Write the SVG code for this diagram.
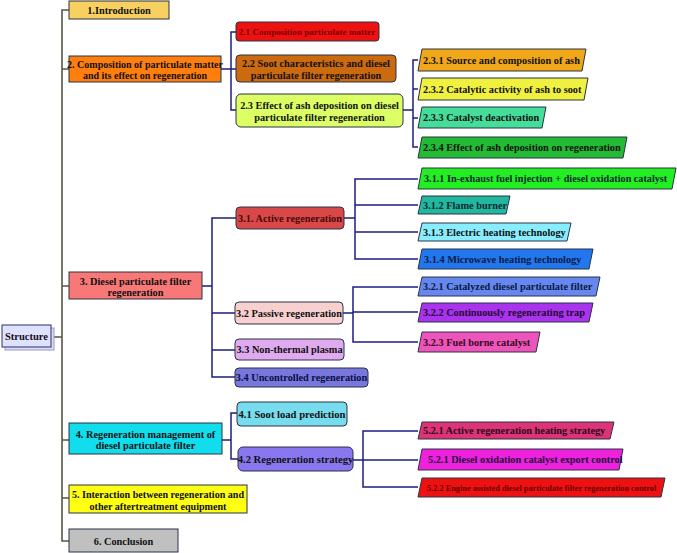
<svg xmlns="http://www.w3.org/2000/svg" width="677" height="553" viewBox="0 0 677 553">
<style>
text{font-family:"Liberation Serif","Times New Roman",serif;font-weight:bold;font-size:10.3px;fill:#111}
.c{text-anchor:middle}
.b{stroke:#2a3344;stroke-width:1}
.sp{fill:none;stroke:#555548;stroke-width:1.6}
.cn{fill:none;stroke:#1c1c80;stroke-width:1.5}
</style>
<rect width="677" height="553" fill="#fff"/>
<g id="connectors">
<path class="sp" d="M69,10 H62 V541 H69 M62,69 H69 M62,286 H69 M62,440 H69 M62,498 H69 M51,337 H62"/>
<path class="cn" d="M221,69 H231 M236,32 H231 V110 H236 M231,69 H236"/>
<path class="cn" d="M403,110 H413 M418,60 H413 V147 H418 M413,89 H418 M413,118 H418"/>
<path class="cn" d="M202,286 H212 M236,218 H212 V377 H236 M212,313 H235 M212,350 H235"/>
<path class="cn" d="M344,218 H355 M418,179 H355 V259 H418 M355,205 H418 M355,232 H418"/>
<path class="cn" d="M343,313 H353 M418,287 H353 V342 H418 M353,312 H418"/>
<path class="cn" d="M222,440 H231 M237,413 H231 V459 H238"/>
<path class="cn" d="M353,460 H363 M418,431 H363 V487 H418 M363,460 H418"/>
</g>
<g id="structure">
<rect x="5" y="328" width="49" height="22" fill="#dcdcf4" stroke="#9999cc"/>
<rect x="2" y="325" width="49" height="22" fill="#e0e0ff" stroke="#22336a"/>
<text class="c" x="26.5" y="340" style="font-size:10.5px">Structure</text>
</g>
<g id="n1"><rect class="b" x="69" y="1" width="100" height="18" fill="#f8d060"/><text class="c" x="119" y="13.5">1.Introduction</text></g>
<g id="n2"><rect class="b" x="69" y="56" width="152" height="26" fill="#ff7f0e"/><text class="c" x="145" y="67.5" style="font-size:10px">2. Composition of particulate matter</text><text class="c" x="145" y="79" style="font-size:10px">and its effect on regeneration</text></g>
<g id="n3"><rect class="b" x="69" y="272" width="133" height="27" fill="#f87878"/><text class="c" x="135.5" y="284.5">3. Diesel particulate filter</text><text class="c" x="135.5" y="296">regeneration</text></g>
<g id="n4"><rect class="b" x="69" y="423" width="153" height="31" fill="#11dded"/><text class="c" x="145.5" y="437.5">4. Regeneration management of</text><text class="c" x="145.5" y="449">diesel particulate filter</text></g>
<g id="n5"><rect class="b" x="69" y="485" width="178" height="28" fill="#ffff11"/><text class="c" x="158" y="497.5" style="font-size:10.1px">5. Interaction between regeneration and</text><text class="c" x="158" y="509.5" style="font-size:10.1px">other aftertreatment equipment</text></g>
<g id="n6"><rect class="b" x="69" y="529" width="109" height="23" fill="#c0c0c0"/><text class="c" x="123.5" y="544.5">6. Conclusion</text></g>
<g id="n21"><rect class="b" x="236" y="22" width="143" height="19" rx="3" fill="#ee1111"/><text class="c" x="307" y="34.5" style="font-size:9.1px;fill:#7a0000">2.1 Composition  particulate matter</text></g>
<g id="n22"><rect class="b" x="236" y="55" width="160" height="27" rx="4" fill="#cc6a10"/><text class="c" x="316" y="66.5">2.2 Soot characteristics and diesel</text><text class="c" x="316" y="78.5">particulate filter regeneration</text></g>
<g id="n23"><rect class="b" x="236" y="94" width="167" height="33" rx="5" fill="#ddff66"/><text class="c" x="319.5" y="108.5">2.3 Effect of ash deposition on diesel</text><text class="c" x="319.5" y="120.5">particulate filter regeneration</text></g>
<g id="n231"><path class="b" d="M418,71 L422,49 H586 L582,71 Z" fill="#f0a818"/><text x="423" y="63.5">2.3.1 Source and composition of ash</text></g>
<g id="n232"><path class="b" d="M418,100 L422,78 H588 L584,100 Z" fill="#f0f040"/><text x="423" y="92.5">2.3.2 Catalytic activity of ash to soot</text></g>
<g id="n233"><path class="b" d="M418,128 L422,107 H546 L542,128 Z" fill="#44dd99"/><text x="423" y="121">2.3.3 Catalyst deactivation</text></g>
<g id="n234"><path class="b" d="M418,158 L422,137 H627 L623,158 Z" fill="#22bb33"/><text x="423" y="151">2.3.4 Effect of ash deposition on regeneration</text></g>
<g id="n31"><rect class="b" x="236" y="207" width="108" height="22" rx="4" fill="#d84848"/><text class="c" x="290" y="221.5" style="fill:#4a0808">3.1. Active regeneration</text></g>
<g id="n311"><path class="b" d="M418,189 L422,168 H676 L672,189 Z" fill="#22ee22"/><text x="424" y="182" style="font-size:10.2px;fill:#0c2a30">3.1.1 In-exhaust fuel injection + diesel oxidation catalyst</text></g>
<g id="n312"><path class="b" d="M418,214 L422,196 H510 L506,214 Z" fill="#22b8a0"/><text x="423" y="208.5" style="fill:#0c2a30">3.1.2 Flame burner</text></g>
<g id="n313"><path class="b" d="M418,241 L422,223 H571 L567,241 Z" fill="#88eeff"/><text x="423" y="235.5">3.1.3 Electric heating technology</text></g>
<g id="n314"><path class="b" d="M418,269 L422,249 H593 L589,269 Z" fill="#2277ee"/><text x="424" y="262.5" style="fill:#0a1a44">3.1.4 Microwave heating technology</text></g>
<g id="n32"><rect class="b" x="235" y="302" width="108" height="22" rx="4" fill="#f8d0d0"/><text class="c" x="289" y="316.5">3.2 Passive regeneration</text></g>
<g id="n321"><path class="b" d="M418,296 L422,277 H600 L596,296 Z" fill="#6688ee"/><text x="423" y="290" style="fill:#0a1a44">3.2.1 Catalyzed diesel particulate filter</text></g>
<g id="n322"><path class="b" d="M418,322 L422,303 H593 L589,322 Z" fill="#aa33ee"/><text x="423" y="316" style="fill:#220a33">3.2.2 Continuously regenerating trap</text></g>
<g id="n323"><path class="b" d="M418,352 L422,332 H540 L536,352 Z" fill="#ee55bb"/><text x="423" y="345.5" style="fill:#330a22">3.2.3 Fuel borne catalyst</text></g>
<g id="n33"><rect class="b" x="235" y="339" width="109" height="21" rx="4" fill="#e0aaee"/><text class="c" x="289.5" y="353">3.3 Non-thermal plasma</text></g>
<g id="n34"><rect class="b" x="235" y="368" width="133" height="19" rx="4" fill="#7777dd"/><text class="c" x="301.5" y="381" style="fill:#0a1040">3.4 Uncontrolled regeneration</text></g>
<g id="n41"><rect class="b" x="237" y="402" width="110" height="24" rx="4" fill="#77ddee"/><text class="c" x="292" y="417.5" style="font-size:10.6px">4.1 Soot load prediction</text></g>
<g id="n42"><rect class="b" x="238" y="447" width="115" height="24" rx="5" fill="#8877ee"/><text class="c" x="295.5" y="462.5" style="font-size:10.6px">4.2 Regeneration strategy</text></g>
<g id="n521a"><path class="b" d="M418,439 L422,422 H614 L610,439 Z" fill="#dd3377"/><text x="423" y="434" style="fill:#2a0a18">5.2.1 Active regeneration heating strategy</text></g>
<g id="n521b"><path class="b" d="M418,470 L422,449 H623 L619,470 Z" fill="#ee22dd"/><text x="428" y="463" style="fill:#220a40">5.2.1 Diesel oxidation catalyst export control</text></g>
<g id="n522"><path class="b" d="M418,497 L422,478 H665 L661,497 Z" fill="#ee1111"/><text x="427" y="490.5" style="font-size:8.3px;fill:#6a0000">5.2.2 Engine assisted diesel particulate filter regeneration control</text></g>
</svg>
